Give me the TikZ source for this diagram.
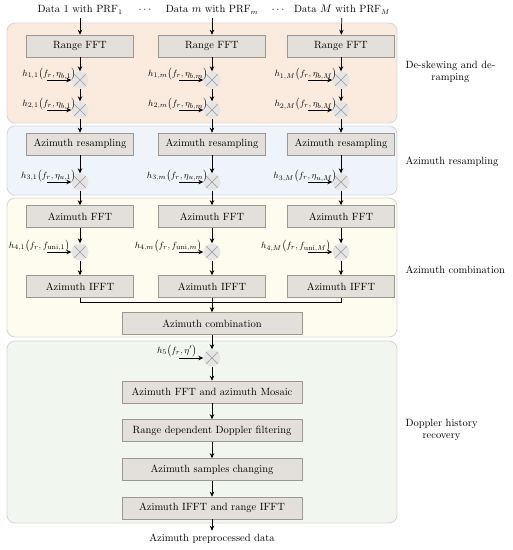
\documentclass[tikz,border=0pt]{standalone}
\usetikzlibrary{arrows.meta}
\definecolor{pA}{HTML}{FBEBDF}
\definecolor{pB}{HTML}{EEF4FA}
\definecolor{pC}{HTML}{FEFCEF}
\definecolor{pD}{HTML}{F1F6EF}
\definecolor{pBorder}{HTML}{D8D8D8}
\definecolor{bxFill}{HTML}{E3E0DC}
\definecolor{bxDraw}{HTML}{9C9792}
\begin{document}
\begin{tikzpicture}[x=1pt,y=-1pt,font=\fontsize{10.5}{12.5}\selectfont,
  panel/.style={draw=pBorder,line width=0.9pt,rounded corners=8pt},
  proc/.style={draw=bxDraw,fill=bxFill,line width=0.6pt,minimum height=22pt,inner sep=0pt},
  colbox/.style={proc,minimum width=107pt},
  widebox/.style={proc,minimum width=180pt},
  mult/.style={circle,fill=black!10,minimum size=17pt,inner sep=0pt,
    path picture={\draw[black!40,line width=0.5pt]
      ([shift={(-6pt,-6pt)}]path picture bounding box.center) -- ([shift={(6pt,6pt)}]path picture bounding box.center)
      ([shift={(-6pt,6pt)}]path picture bounding box.center) -- ([shift={(6pt,-6pt)}]path picture bounding box.center);}},
  arr/.style={-{Stealth[length=5pt,width=4.5pt]},line width=0.7pt},
  lbl/.style={anchor=east,inner sep=0pt,font=\fontsize{9.5}{11}\selectfont},
  side/.style={anchor=west,align=center}]
\useasboundingbox (0,0) rectangle (513,550);
% panels
\draw[panel,fill=pA] (7,23) rectangle (397,123);
\draw[panel,fill=pB] (7,126) rectangle (397,195);
\draw[panel,fill=pC] (7,198) rectangle (397,337);
\draw[panel,fill=pD] (7,341) rectangle (397,523);
% side labels
\node[side] (s1) at (402,72) {De-skewing and de-\\ramping};
\node[side] (s2) at (402,162) {Azimuth resampling};
\node[side] (s3) at (402,270) {Azimuth combination};
\node[side] (s4) at (402,430) {Doppler history\\recovery};
% inputs
\node (d1) at (80,10) {Data 1 with PRF$_1$};
\node (dm) at (212,10) {Data $m$ with PRF$_m$};
\node (dM) at (342,10) {Data $M$ with PRF$_M$};
\node (dots1) at (145,10) {$\cdots$};
\node (dots2) at (278,10) {$\cdots$};
% columns
\foreach \c/\x/\s in {1/80/1,2/212/m,3/341/M}{
  \node[colbox] (rf\c) at (\x,46) {Range FFT};
  \node[mult] (ma\c) at (\x,80) {};
  \node[mult] (mb\c) at (\x,110) {};
  \node[colbox] (ar\c) at (\x,144) {Azimuth resampling};
  \node[mult] (mc\c) at (\x,182) {};
  \node[colbox] (af\c) at (\x,216.5) {Azimuth FFT};
  \node[mult] (md\c) at (\x,252) {};
  \node[colbox] (ai\c) at (\x,286.5) {Azimuth IFFT};
  \node[lbl] (la\c) at (\x-4,74) {$h_{1,\s}\bigl(f_r,\eta_{b,\s}\bigr)$};
  \node[lbl] (lb\c) at (\x-4,104) {$h_{2,\s}\bigl(f_r,\eta_{b,\s}\bigr)$};
  \node[lbl] (lc\c) at (\x-4,176) {$h_{3,\s}\bigl(f_r,\eta_{u,\s}\bigr)$};
  \node[lbl] (ld\c) at (\x-10,246) {$h_{4,\s}\bigl(f_r,f_{\mathrm{uni},\s}\bigr)$};
  \coordinate (ia\c) at (\x-33,80);
  \coordinate (ib\c) at (\x-33,110);
  \coordinate (ic\c) at (\x-33,182);
  \coordinate (id\c) at (\x-33,252);
  \draw[arr] (ia\c) -- (ma\c);
  \draw[arr] (ib\c) -- (mb\c);
  \draw[arr] (ic\c) -- (mc\c);
  \draw[arr] (id\c) -- (md\c);
  \draw[arr] (rf\c) -- (ma\c);
  \draw[arr] (ma\c) -- (mb\c);
  \draw[arr] (mb\c) -- (ar\c);
  \draw[arr] (ar\c) -- (mc\c);
  \draw[arr] (mc\c) -- (af\c);
  \draw[arr] (af\c) -- (md\c);
  \draw[arr] (md\c) -- (ai\c);
}
\draw[arr] (d1) -- (rf1);
\draw[arr] (dm) -- (rf2);
\draw[arr] (dM) -- (rf3);
% combination
\node[widebox] (comb) at (212,323.5) {Azimuth combination};
\coordinate (j1) at (80,302);
\coordinate (j3) at (341,302);
\draw[line width=0.7pt] (ai1.south) -- (j1) -- (j3) -- (ai3.south);
\draw[arr] (ai2) -- (comb);
% recovery
\node[mult] (m5) at (212,358) {};
\node[lbl] (l5) at (197,351) {$h_5\bigl(f_r,\eta'\bigr)$};
\coordinate (i5) at (179,358);
\draw[arr] (i5) -- (m5);
\node[widebox] (b1) at (212,392) {Azimuth FFT and azimuth Mosaic};
\node[widebox] (b2) at (212,430.5) {Range dependent Doppler filtering};
\node[widebox] (b3) at (212,469.5) {Azimuth samples changing};
\node[widebox] (b4) at (212,508) {Azimuth IFFT and range IFFT};
\node (out) at (212,539) {Azimuth preprocessed data};
\draw[arr] (comb) -- (m5);
\draw[arr] (m5) -- (b1);
\draw[arr] (b1) -- (b2);
\draw[arr] (b2) -- (b3);
\draw[arr] (b3) -- (b4);
\draw[arr] (b4) -- (out);
\end{tikzpicture}
\end{document}
